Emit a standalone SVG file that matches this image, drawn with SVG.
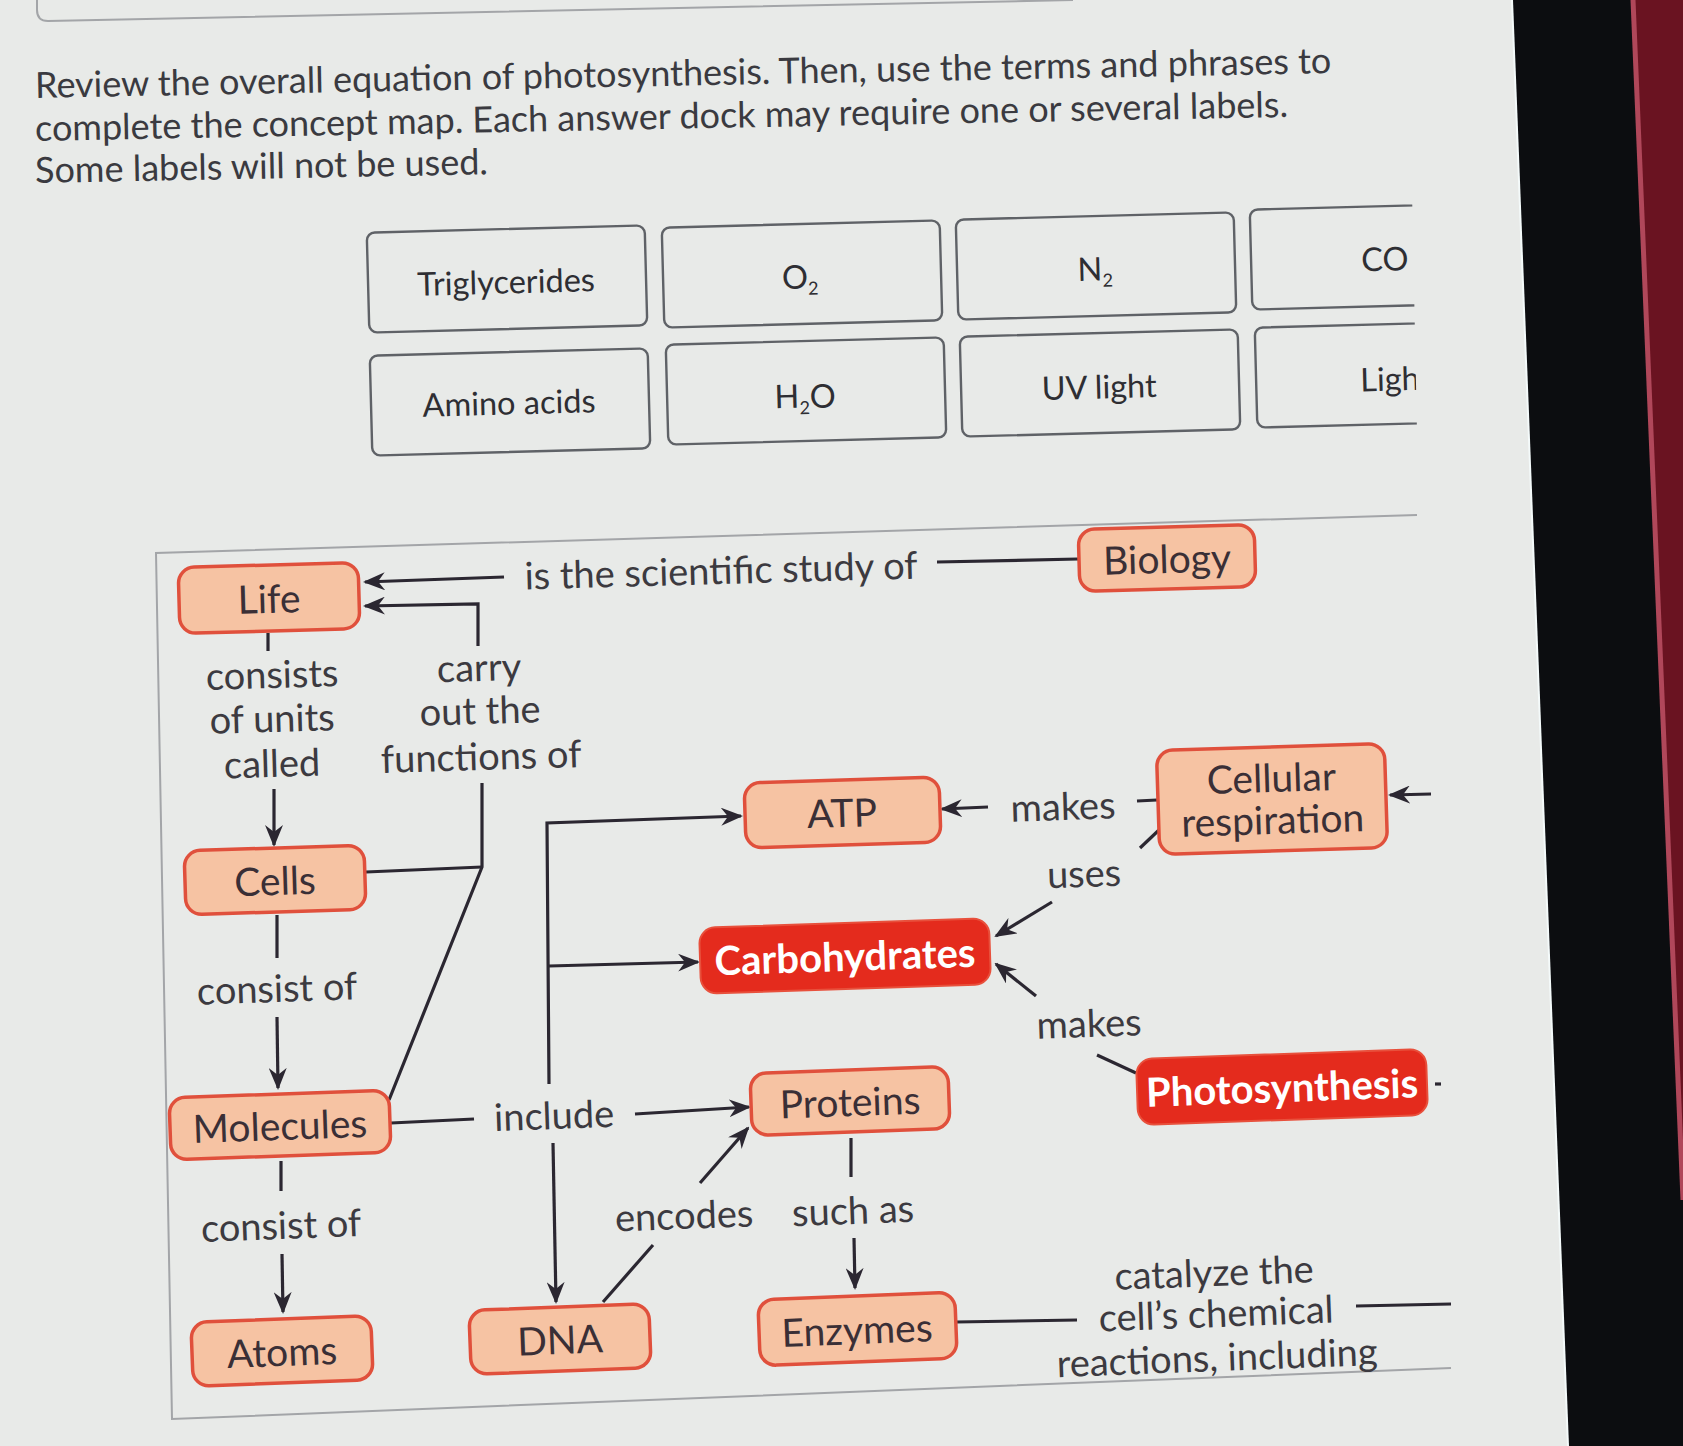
<svg xmlns="http://www.w3.org/2000/svg" width="1683" height="1446" viewBox="0 0 1683 1446">
<defs>
<style>
.n{fill:#f6c3a3;stroke:#e0503c;stroke-width:3.5}
.r{fill:#e42b1d;stroke:#e8503c;stroke-width:2}
.nt{font-family:Lato,"Open Sans",sans-serif;font-size:39px;fill:#3a2f36;text-anchor:middle;dominant-baseline:central}
.rt{font-family:Lato,"Open Sans",sans-serif;font-size:40px;fill:#ffffff;font-weight:700;text-anchor:middle;dominant-baseline:central}
.lb{font-family:Lato,"Open Sans",sans-serif;font-size:38px;fill:#3c3a40;text-anchor:middle;dominant-baseline:central}
.hd{font-family:Lato,"Open Sans",sans-serif;font-size:36px;fill:#3a3a40;dominant-baseline:central}
.bx{fill:none;stroke:#5f6267;stroke-width:2.4}
.bt{font-family:Lato,"Open Sans",sans-serif;font-size:32.5px;fill:#2e2e33;text-anchor:middle;dominant-baseline:central}
.bs{text-anchor:start}
.c{stroke:#2b2731;stroke-width:3.2;fill:none}
.a{marker-end:url(#ah)}
.fr{stroke:#a3a5a8;stroke-width:2;fill:none}
</style>
<marker id="ah" viewBox="0 0 22 18" refX="20" refY="9" markerWidth="22" markerHeight="18" markerUnits="userSpaceOnUse" orient="auto">
<path d="M0,0 L22,9 L0,18 L7,9 z" fill="#2b2731"/>
</marker>
<clipPath id="clipR"><polygon points="0,0 1408,0 1418,480 0,480"/></clipPath>
</defs>

<rect x="0" y="0" width="1683" height="1446" fill="#e8eae8"/>

<!-- screen bezel -->
<polygon points="1512,0 1683,0 1683,1446 1568,1446" fill="#0c0d10"/>
<polygon points="1633,0 1683,0 1683,1200" fill="#6a1321"/>
<line x1="1633" y1="0" x2="1683" y2="1200" stroke="#b0475a" stroke-width="5"/>
<line x1="1512" y1="0" x2="1568" y2="1446" stroke="#f4fafa" stroke-width="2"/>

<!-- top panel edge -->
<path class="fr" d="M37,0 L37,10 Q37,21 48,21 L1073,0" stroke="#7d8188"/>

<!-- heading -->
<g id="heading">
<text class="hd" x="35" y="84" transform="rotate(-1.1 35 84)">Review the overall equation of photosynthesis. Then, use the terms and phrases to</text>
<text class="hd" x="35" y="127" transform="rotate(-1.1 35 127)">complete the concept map. Each answer dock may require one or several labels.</text>
<text class="hd" x="35" y="169" transform="rotate(-1.1 35 169)">Some labels will not be used.</text>
</g>

<!-- answer labels -->
<g id="labels">
<g id="lbl-triglycerides" transform="rotate(-1.5 507 279)"><rect class="bx" x="368" y="229" width="278" height="100" rx="8"/><text class="bt" x="506" y="281">Triglycerides</text></g>
<g id="lbl-o2" transform="rotate(-1.5 802 274)"><rect class="bx" x="663" y="224" width="278" height="100" rx="8"/><text class="bt" x="800" y="276">O<tspan font-size="18" dy="12">2</tspan></text></g>
<g id="lbl-n2" transform="rotate(-1.5 1096 266)"><rect class="bx" x="957" y="216" width="278" height="100" rx="8"/><text class="bt" x="1095" y="268">N<tspan font-size="18" dy="12">2</tspan></text></g>
<g id="lbl-co" clip-path="url(#clipR)"><g transform="rotate(-1.5 1390 256)"><rect class="bx" x="1251" y="206" width="278" height="100" rx="8"/><text class="bt bs" x="1361" y="258">CO</text></g></g>
<g id="lbl-amino" transform="rotate(-1.5 510 402)"><rect class="bx" x="371" y="352" width="278" height="100" rx="8"/><text class="bt" x="509" y="402">Amino acids</text></g>
<g id="lbl-h2o" transform="rotate(-1.5 806 391)"><rect class="bx" x="667" y="341" width="278" height="100" rx="8"/><text class="bt" x="805" y="395">H<tspan font-size="18" dy="12">2</tspan><tspan dy="-12">O</tspan></text></g>
<g id="lbl-uv" transform="rotate(-1.5 1100 383)"><rect class="bx" x="961" y="333" width="278" height="100" rx="8"/><text class="bt" x="1099" y="386">UV light</text></g>
<g id="lbl-light" clip-path="url(#clipR)"><g transform="rotate(-1.5 1395 374)"><rect class="bx" x="1256" y="324" width="278" height="100" rx="8"/><text class="bt bs" x="1360" y="378">Ligh</text></g></g>
</g>

<!-- concept map frame -->
<path class="fr" d="M1417,515 L156,553 L172,1419 L1451,1368"/>

<!-- connectors -->
<g id="connectors">
<line class="c" x1="937" y1="562" x2="1078" y2="559"/>
<line class="c a" x1="504" y1="577" x2="365" y2="582"/>
<polyline class="c a" points="478,646 478,604 365,606"/>
<line class="c" x1="268" y1="633" x2="268" y2="651"/>
<line class="c a" x1="274" y1="789" x2="274" y2="845"/>
<line class="c" x1="277" y1="915" x2="277" y2="958"/>
<line class="c a" x1="277" y1="1017" x2="278" y2="1088"/>
<line class="c" x1="281" y1="1161" x2="281" y2="1191"/>
<line class="c a" x1="282" y1="1254" x2="283" y2="1312"/>
<polyline class="c" points="482,783 482,867 389,1100"/>
<line class="c" x1="366" y1="872" x2="482" y2="867"/>
<line class="c" x1="391" y1="1123" x2="474" y2="1119"/>
<line class="c a" x1="635" y1="1114" x2="749" y2="1107"/>
<polyline class="c a" points="549,1084 547,823 741,816"/>
<line class="c a" x1="549" y1="966" x2="698" y2="962"/>
<line class="c a" x1="553" y1="1143" x2="556" y2="1302"/>
<line class="c" x1="603" y1="1302" x2="653" y2="1245"/>
<line class="c a" x1="700" y1="1183" x2="748" y2="1128"/>
<line class="c" x1="851" y1="1138" x2="851" y2="1177"/>
<line class="c a" x1="854" y1="1238" x2="855" y2="1288"/>
<line class="c" x1="956" y1="1322" x2="1077" y2="1320"/>
<line class="c" x1="1356" y1="1306" x2="1451" y2="1304"/>
<line class="c" x1="1137" y1="801" x2="1157" y2="800"/>
<line class="c a" x1="988" y1="807" x2="942" y2="809"/>
<line class="c" x1="1159" y1="830" x2="1140" y2="848"/>
<line class="c a" x1="1052" y1="902" x2="996" y2="936"/>
<line class="c" x1="1136" y1="1073" x2="1097" y2="1055"/>
<line class="c a" x1="1036" y1="996" x2="996" y2="964"/>
<line class="c a" x1="1431" y1="794" x2="1390" y2="795"/>
<line class="c" x1="1435" y1="1084" x2="1441" y2="1084"/>
</g>

<!-- link labels -->
<g id="link-labels">
<text class="lb" x="721" y="569" transform="rotate(-1.6 721 569)">is the scientific study of</text>
<text class="lb" x="272" y="673" transform="rotate(-1.7 272 673)">consists</text>
<text class="lb" x="272" y="717" transform="rotate(-1.7 272 717)">of units</text>
<text class="lb" x="272" y="762" transform="rotate(-1.7 272 762)">called</text>
<text class="lb" x="479" y="666" transform="rotate(-1.7 479 666)">carry</text>
<text class="lb" x="480" y="709" transform="rotate(-1.7 480 709)">out the</text>
<text class="lb" x="481" y="755" transform="rotate(-1.7 481 755)">functions of</text>
<text class="lb" x="277" y="987" transform="rotate(-1.9 277 987)">consist of</text>
<text class="lb" x="554" y="1114" transform="rotate(-2 554 1114)">include</text>
<text class="lb" x="281" y="1224" transform="rotate(-2.1 281 1224)">consist of</text>
<text class="lb" x="684" y="1214" transform="rotate(-2.1 684 1214)">encodes</text>
<text class="lb" x="853" y="1209" transform="rotate(-2.1 853 1209)">such as</text>
<text class="lb" x="1063" y="805" transform="rotate(-1.8 1063 805)">makes</text>
<text class="lb" x="1084" y="872" transform="rotate(-1.8 1084 872)">uses</text>
<text class="lb" x="1089" y="1022" transform="rotate(-2 1089 1022)">makes</text>
<text class="lb" x="1214" y="1271" transform="rotate(-2.2 1214 1271)">catalyze the</text>
<text class="lb" x="1216" y="1312" transform="rotate(-2.2 1216 1312)">cell’s chemical</text>
<text class="lb" x="1217" y="1356" transform="rotate(-2.2 1217 1356)">reactions, including</text>
</g>

<!-- nodes -->
<g id="life" transform="rotate(-1.6 269 598)"><rect class="n" x="179" y="565" width="180" height="66" rx="16"/><text class="nt" x="269" y="598">Life</text></g>
<g id="biology" transform="rotate(-1.6 1167 558)"><rect class="n" x="1079" y="527" width="176" height="62" rx="16"/><text class="nt" x="1167" y="558">Biology</text></g>
<g id="cells" transform="rotate(-1.8 275 880)"><rect class="n" x="185" y="848" width="180" height="64" rx="16"/><text class="nt" x="275" y="880">Cells</text></g>
<g id="molecules" transform="rotate(-2 280 1125)"><rect class="n" x="170" y="1094" width="220" height="62" rx="16"/><text class="nt" x="280" y="1125">Molecules</text></g>
<g id="atoms" transform="rotate(-2.2 282 1351)"><rect class="n" x="192" y="1319" width="180" height="64" rx="16"/><text class="nt" x="282" y="1351">Atoms</text></g>
<g id="dna" transform="rotate(-2.2 560 1339)"><rect class="n" x="470" y="1307" width="180" height="64" rx="16"/><text class="nt" x="560" y="1339">DNA</text></g>
<g id="enzymes" transform="rotate(-2.2 857 1329)"><rect class="n" x="759" y="1296" width="197" height="66" rx="16"/><text class="nt" x="857" y="1329">Enzymes</text></g>
<g id="proteins" transform="rotate(-2 850 1101)"><rect class="n" x="751" y="1070" width="198" height="62" rx="16"/><text class="nt" x="850" y="1101">Proteins</text></g>
<g id="atp" transform="rotate(-1.8 842 812)"><rect class="n" x="745" y="780" width="195" height="65" rx="16"/><text class="nt" x="842" y="812">ATP</text></g>
<g id="carbohydrates" transform="rotate(-1.9 845 956)"><rect class="r" x="700" y="923" width="290" height="66" rx="16"/><text class="rt" x="845" y="956">Carbohydrates</text></g>
<g id="cellular-respiration" transform="rotate(-1.8 1272 799)"><rect class="n" x="1158" y="747" width="228" height="104" rx="16"/><text class="nt" x="1272" y="777">Cellular</text><text class="nt" x="1272" y="819">respiration</text></g>
<g id="photosynthesis" transform="rotate(-2 1282 1087)"><rect class="r" x="1137" y="1054" width="290" height="66" rx="16"/><text class="rt" x="1282" y="1087">Photosynthesis</text></g>
</svg>
